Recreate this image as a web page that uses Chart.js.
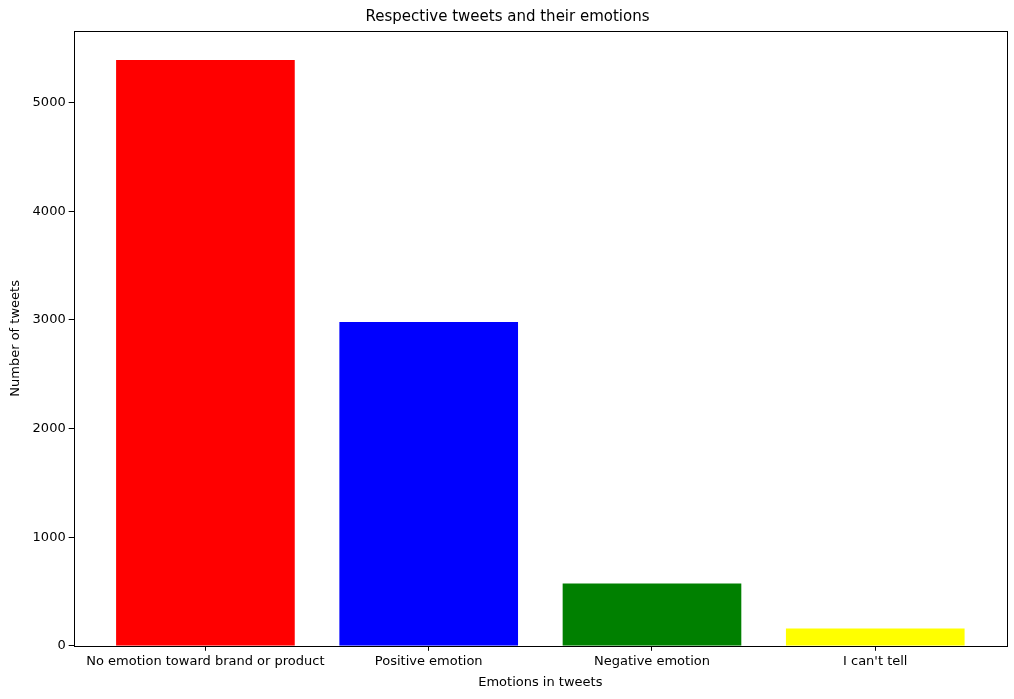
<!DOCTYPE html>
<html><head><meta charset="utf-8">
<script src="https://cdn.jsdelivr.net/npm/chart.js@4"></script>
<style>html,body{margin:0;background:#fff}#w{width:1014px;height:699px}</style>
</head><body><div id="w"><canvas id="c"></canvas></div>
<script>
const categories = ["No emotion toward brand or product","Positive emotion","Negative emotion","I can't tell"];
const counts = [5389, 2978, 570, 156];
const colors = ["#ff0000","#0000ff","#008000","#ffff00"];
const yTicks = [0,1000,2000,3000,4000,5000];
const frame = {id:'frame',afterDraw(ch){const a=ch.chartArea,x=ch.ctx;x.save();x.strokeStyle='#000';x.lineWidth=1;x.strokeRect(Math.round(a.left)+0.5,Math.round(a.top)+0.5,Math.round(a.right-a.left),Math.round(a.bottom-a.top));x.restore();}};
Chart.defaults.font.family="DejaVu Sans";
Chart.defaults.font.size=13;
Chart.defaults.color="#000";
new Chart(document.getElementById('c'),{type:'bar',
data:{datasets:[{data:counts.map((v,i)=>({x:i,y:v})),backgroundColor:colors,borderWidth:0,barThickness:178}]},
options:{responsive:true,maintainAspectRatio:false,animation:false,
layout:{padding:{top:4,right:7,left:8,bottom:9}},
plugins:{legend:{display:false},tooltip:{enabled:false},
title:{display:true,text:"Respective tweets and their emotions",font:{size:15,weight:'normal'},padding:{top:4,bottom:5}}},
scales:{
x:{type:'linear',min:-0.59,max:3.59,offset:false,afterBuildTicks:s=>{s.ticks=categories.map((c,i)=>({value:i}));},
grid:{display:true,offset:false,drawOnChartArea:false,tickLength:5,color:'#000'},border:{display:false},
ticks:{padding:3,maxRotation:0,autoSkip:false,callback:v=>categories[v]},
title:{display:true,text:"Emotions in tweets",padding:{top:2,bottom:0}}},
y:{min:0,max:5658,afterBuildTicks:s=>{s.ticks=yTicks.map(v=>({value:v}));},
grid:{display:true,drawOnChartArea:false,tickLength:5,color:'#000'},border:{display:false},ticks:{padding:3,callback:v=>String(v)},
title:{display:true,text:"Number of tweets",padding:{top:0,bottom:6}}}}},
plugins:[frame]});
</script></body></html>
